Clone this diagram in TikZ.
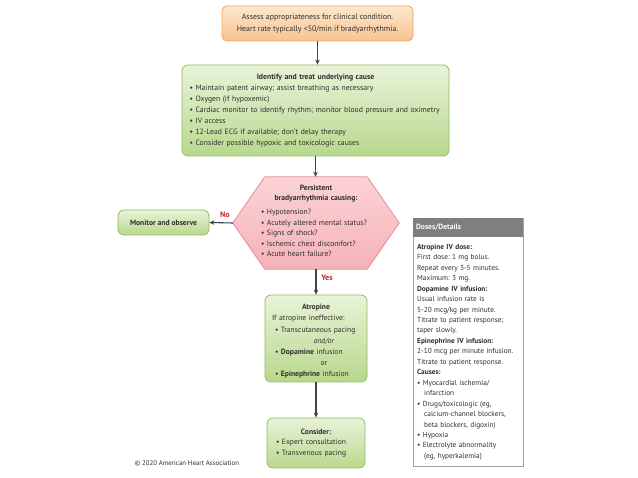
\documentclass[tikz,border=0pt]{standalone}
\usepackage{fontspec}
\setmainfont{PT Sans}
\usetikzlibrary{arrows.meta,calc}
\frenchspacing
\definecolor{txt}{HTML}{2E2E2E}
\definecolor{ortop}{HTML}{FDE7CF}
\definecolor{orbot}{HTML}{F8C38E}
\definecolor{orbd}{HTML}{F2A55E}
\definecolor{grtop}{HTML}{E9F3D9}
\definecolor{grbot}{HTML}{B8D88C}
\definecolor{grbd}{HTML}{8FBE5E}
\definecolor{hxtop}{HTML}{FBD3D6}
\definecolor{hxbot}{HTML}{F5B2B8}
\definecolor{hxbd}{HTML}{E58C95}
\definecolor{redlab}{HTML}{D0202A}
\definecolor{arrc}{HTML}{444444}
\definecolor{hdrgray}{HTML}{7F7F7F}
\definecolor{dbd}{HTML}{A0A0A0}
\pgfdeclarelayer{bg}
\pgfsetlayers{bg,main}
\begin{document}
\frenchspacing
\begin{tikzpicture}[x=1pt,y=-1pt,
  every node/.style={text=txt, inner sep=0pt},
  orangebox/.style={draw=orbd, top color=ortop, bottom color=orbot, rounded corners=5pt, line width=0.8pt},
  greenbox/.style={draw=grbd, top color=grtop, bottom color=grbot, rounded corners=6pt, line width=0.8pt},
  conn/.style={draw=arrc, line width=1.1pt, -{Stealth[length=5pt,width=4.5pt]}},
  lab/.style={text=redlab, font=\fontsize{8}{9}\selectfont\bfseries},
  bodyfont/.style={font=\fontsize{7.7}{11}\selectfont}
]
\begin{pgfonlayer}{bg}
\fill[white] (0,0) rectangle (638,478);
\end{pgfonlayer}

\node[orangebox, minimum width=191pt, minimum height=35pt, align=center,
      font=\fontsize{7.9}{11.5}\selectfont] (assess) at (317.5,23.5)
  {Assess appropriateness for clinical condition.\\Heart rate typically <50/min if bradyarrhythmia.};

\node[greenbox, minimum width=267pt, minimum height=91pt, text width=256pt, align=left, bodyfont] (cause) at (315.5,110.5)
  {\makebox[\linewidth]{\bfseries Identify and treat underlying cause}\\
   \hspace*{2pt}\textbullet\ Maintain patent airway; assist breathing as necessary\\
   \hspace*{2pt}\textbullet\ Oxygen (if hypoxemic)\\
   \hspace*{2pt}\textbullet\ Cardiac monitor to identify rhythm; monitor blood pressure and oximetry\\
   \hspace*{2pt}\textbullet\ IV access\\
   \hspace*{2pt}\textbullet\ 12-Lead ECG if available; don't delay therapy\\
   \hspace*{2pt}\textbullet\ Consider possible hypoxic and toxicologic causes};

\node[minimum width=166pt, minimum height=92pt, text width=110pt, align=left,
      font=\fontsize{7.6}{10.5}\selectfont] (hex) at (316,223)
  {\makebox[\linewidth]{\bfseries Persistent}\\
   \makebox[\linewidth]{\bfseries bradyarrhythmia causing:}\\[3.5pt]
   \textbullet\ Hypotension?\\
   \textbullet\ Acutely altered mental status?\\
   \textbullet\ Signs of shock?\\
   \textbullet\ Ischemic chest discomfort?\\
   \textbullet\ Acute heart failure?\rule[-4pt]{0pt}{0pt}};
\begin{pgfonlayer}{bg}
\draw[draw=hxbd, top color=hxtop, bottom color=hxbot, line width=0.8pt]
  (hex.west) -- ([xshift=32pt]hex.north west) -- ([xshift=-32pt]hex.north east)
  -- (hex.east) -- ([xshift=-32pt]hex.south east) -- ([xshift=32pt]hex.south west) -- cycle;
\end{pgfonlayer}

\node[greenbox, minimum width=91pt, minimum height=25pt, font=\fontsize{7.6}{9}\selectfont\bfseries] (mon) at (163.5,222.5)
  {Monitor and observe};

\node[lab] (nolab) at (225,215) {No};
\node[lab] (yeslab) at (327,278) {Yes};

\node[greenbox, minimum width=102pt, minimum height=87pt, text width=88pt, align=left,
      font=\fontsize{7.6}{11.2}\selectfont] (atro) at (316,338.5)
  {\makebox[\linewidth]{\rule{0pt}{11pt}\bfseries Atropine}\\
   If atropine ineffective:\\
   \hspace*{3pt}\textbullet\ Transcutaneous pacing\\
   \makebox[\linewidth]{\hspace*{16pt}\itshape and/or}\\
   \hspace*{3pt}\textbullet\ \textbf{Dopamine} infusion\\
   \makebox[\linewidth]{\hspace*{16pt}or}\\
   \hspace*{3pt}\textbullet\ \textbf{Epinephrine} infusion};

\node[greenbox, minimum width=98pt, minimum height=50pt, text width=80pt, align=left,
      font=\fontsize{7.6}{10.8}\selectfont] (cons) at (316,443)
  {\makebox[\linewidth]{\bfseries Consider:}\\
   \textbullet\ Expert consultation\\
   \textbullet\ Transvenous pacing};

\node[draw=dbd, line width=0.7pt, fill=white, minimum width=110pt, minimum height=248pt] (doses) at (468,342) {};
\node[fill=hdrgray, minimum width=110pt, minimum height=19pt, anchor=north, text=white,
      font=\fontsize{7.6}{9}\selectfont\bfseries, text width=104pt, align=left] (hdr) at (doses.north) {Doses/Details};
\node[anchor=north west, text width=104pt, align=left, font=\fontsize{7.3}{10.45}\selectfont] (dbody) at (417,244)
  {\textbf{Atropine IV dose:}\\
   First dose: 1 mg bolus.\\
   Repeat every 3-5 minutes.\\
   Maximum: 3 mg.\\
   \textbf{Dopamine IV infusion:}\\
   Usual infusion rate is\\
   5-20 mcg/kg per minute.\\
   Titrate to patient response;\\
   taper slowly.\\
   \textbf{Epinephrine IV infusion:}\\
   2-10 mcg per minute infusion.\\
   Titrate to patient response.\\
   \textbf{Causes:}\\
   \textbullet\ Myocardial ischemia/\\
   \hspace*{7pt}infarction\\
   \textbullet\ Drugs/toxicologic (eg,\\
   \hspace*{7pt}calcium-channel blockers,\\
   \hspace*{7pt}beta blockers, digoxin)\\
   \textbullet\ Hypoxia\\
   \textbullet\ Electrolyte abnormality\\
   \hspace*{7pt}(eg, hyperkalemia)};

\node[font=\fontsize{6.8}{8}\selectfont] (copy) at (187,463) {\textcopyright\ 2020 American Heart Association};

\draw[conn] (assess.south) -- (assess.south |- cause.north);
\draw[conn] (cause.south) -- (cause.south |- hex.north);
\draw[conn] (hex.west) -- (mon.east);
\draw[conn] (hex.south) -- (hex.south |- atro.north);
\draw[conn] (atro.south) -- (atro.south |- cons.north);
\end{tikzpicture}
\end{document}
